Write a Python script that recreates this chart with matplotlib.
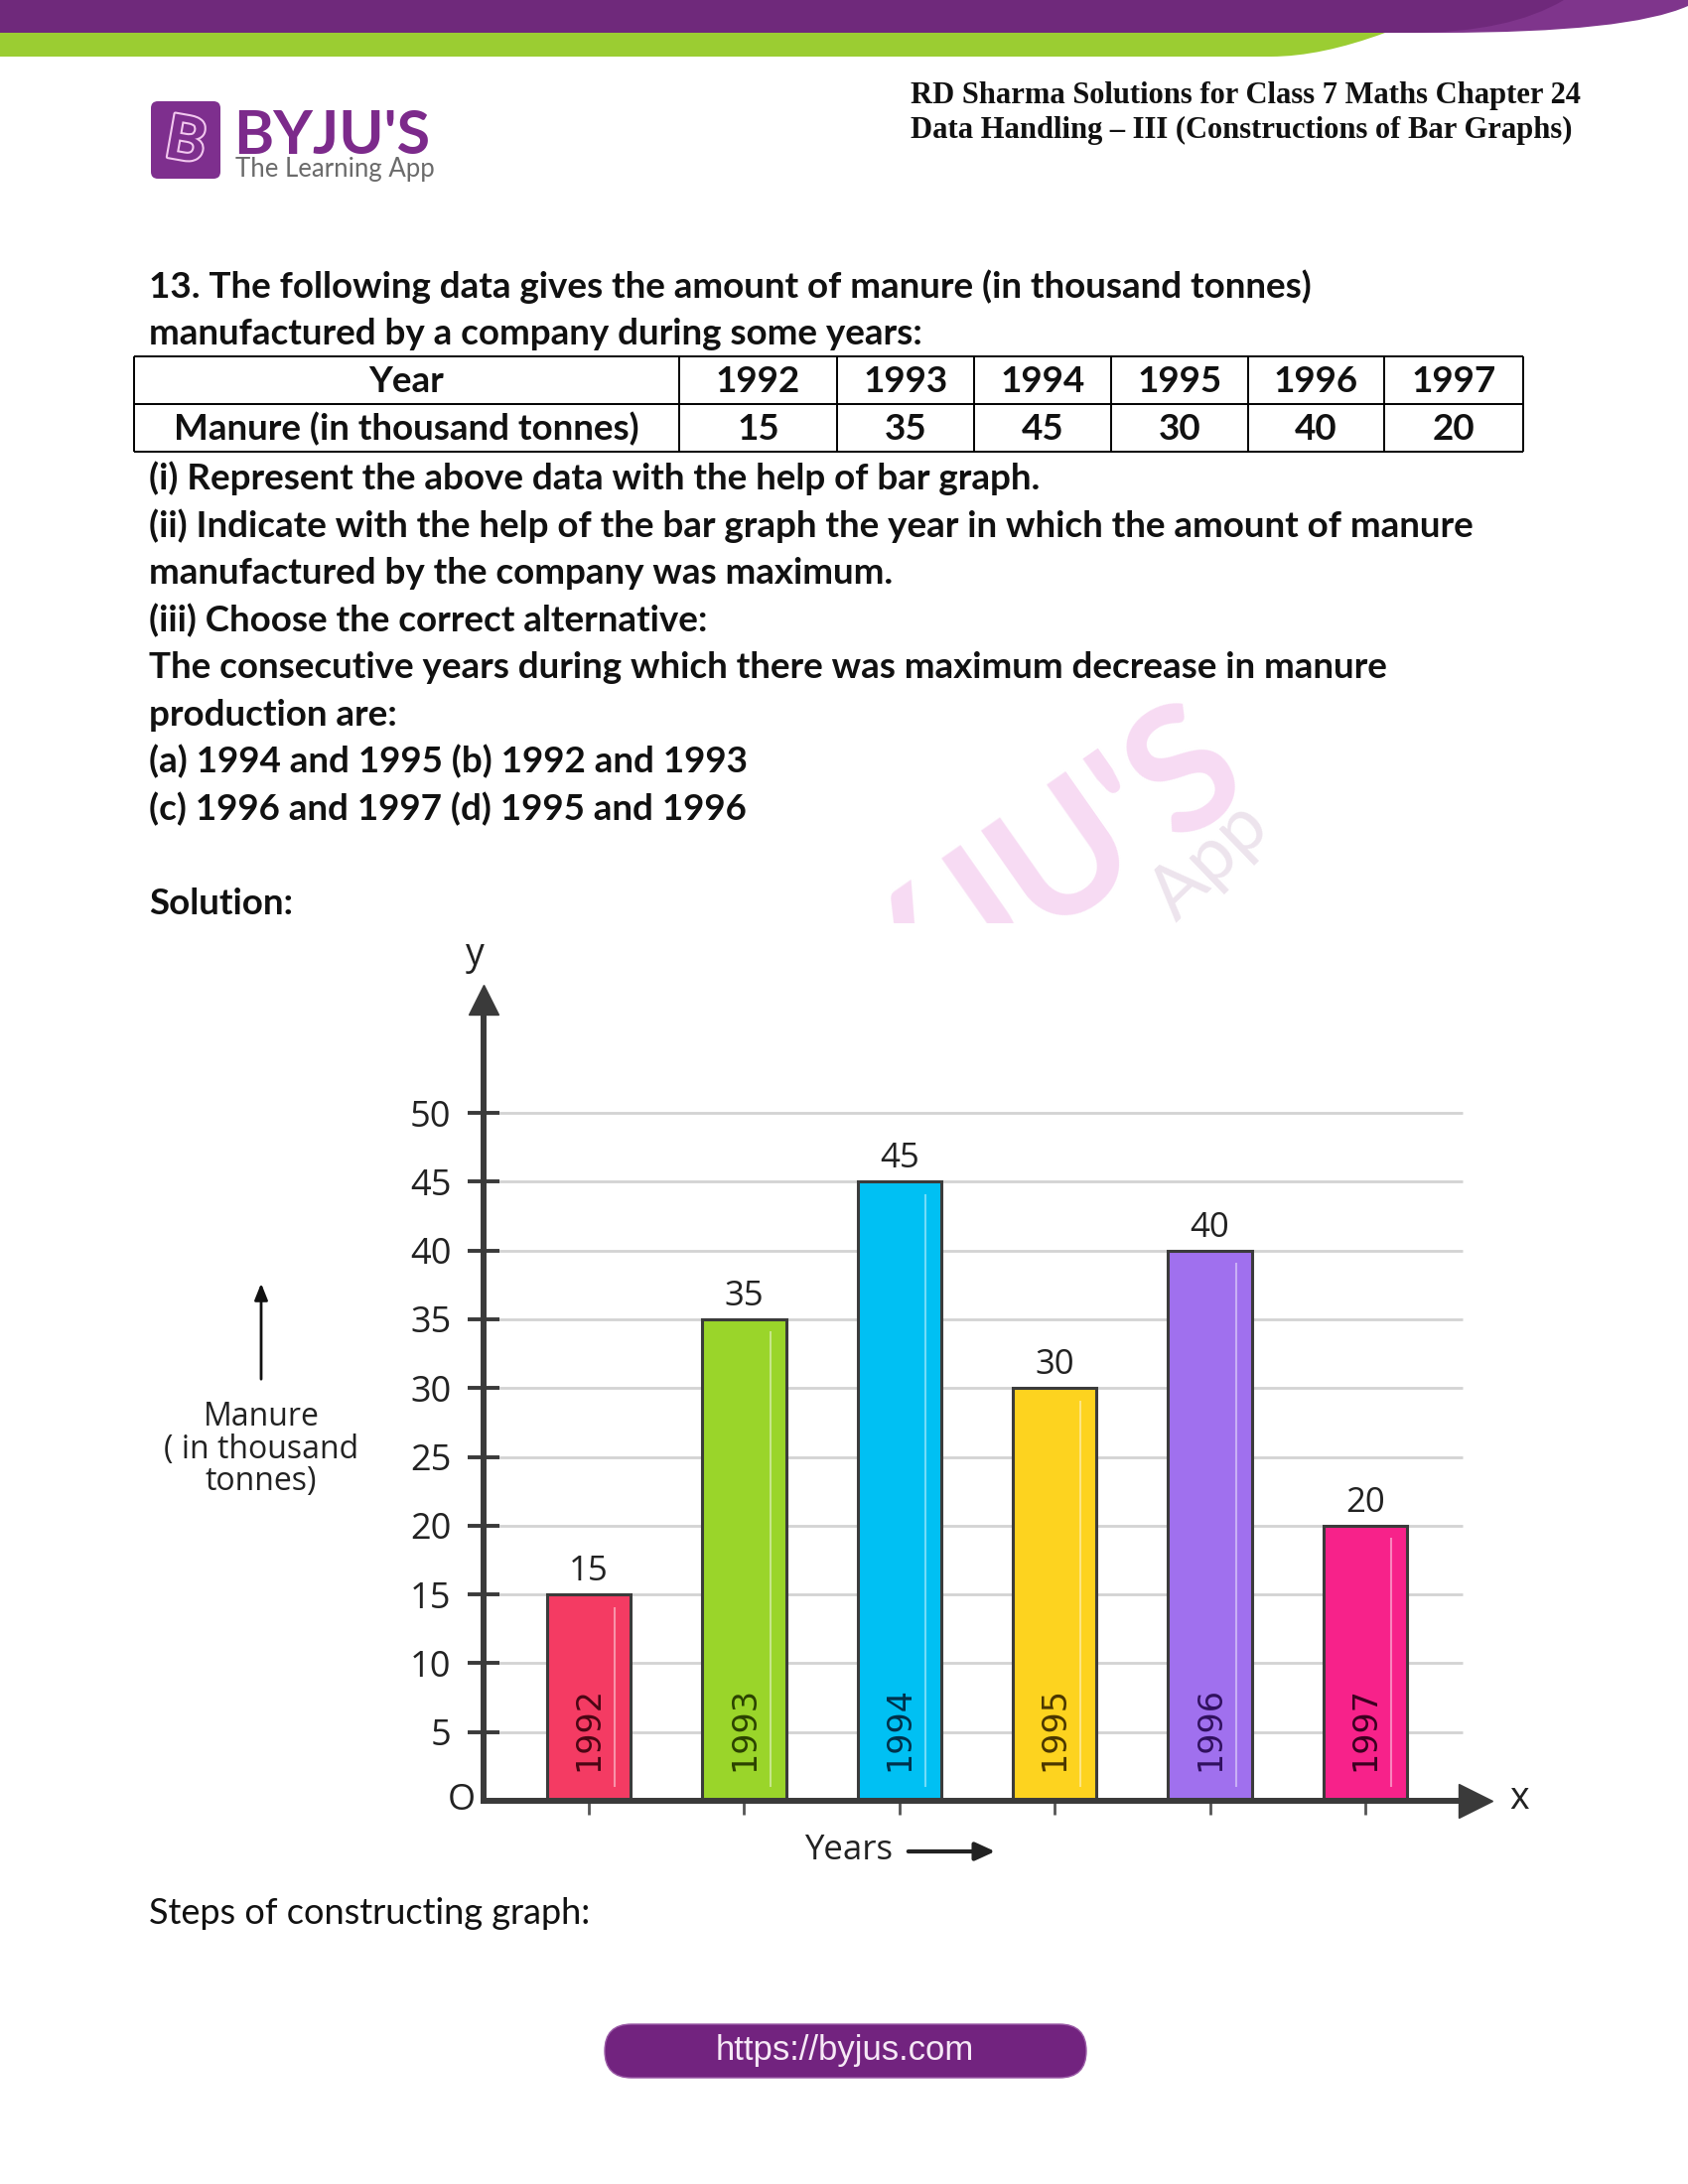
import numpy as np
import matplotlib
matplotlib.use("Agg")
import matplotlib.pyplot as plt
from matplotlib.patches import Rectangle, FancyBboxPatch, PathPatch
from matplotlib.path import Path
import matplotlib.patheffects as pe

# ---- data -------------------------------------------------------------
years = ["1992", "1993", "1994", "1995", "1996", "1997"]
manure = [15, 35, 45, 30, 40, 20]
bar_colors = ["#f43b63", "#9ad52a", "#00c0f3", "#fdd31f", "#a070ee", "#f7228a"]
year_text_colors = ["#4a0614", "#2b4200", "#00304a", "#4a3600", "#30105e", "#3a0020"]
y_ticks = [5, 10, 15, 20, 25, 30, 35, 40, 45, 50]

header_lines = ["RD Sharma Solutions for Class 7 Maths Chapter 24",
                "Data Handling \u2013 III (Constructions of Bar Graphs)"]
question_top = ["13. The following data gives the amount of manure (in thousand tonnes)",
                "manufactured by a company during some years:"]
question_rest = ["(i) Represent the above data with the help of bar graph.",
                 "(ii) Indicate with the help of the bar graph the year in which the amount of manure",
                 "manufactured by the company was maximum.",
                 "(iii) Choose the correct alternative:",
                 "The consecutive years during which there was maximum decrease in manure",
                 "production are:",
                 "(a) 1994 and 1995 (b) 1992 and 1993",
                 "(c) 1996 and 1997 (d) 1995 and 1996"]

BODY = "Lato"
CHART = "Open Sans"
BODY_FS = 26.5
plt.rcParams["font.family"] = [CHART, "DejaVu Sans"]

W, H = 1700, 2200
fig = plt.figure(figsize=(17, 22), dpi=100)
pg = fig.add_axes([0, 0, 1, 1])
pg.set_xlim(0, W)
pg.set_ylim(H, 0)
pg.axis("off")


def fig_box(x0, y0, x1, y1):
    """page pixels (y down) -> figure fraction rect"""
    return [x0 / W, 1 - y1 / H, (x1 - x0) / W, (y1 - y0) / H]


# ---- top banner -------------------------------------------------------
C3 = Path.CURVE3
green = Path([(0, 28), (1395, 28), (1395, 33), (1330, 57), (1280, 57), (0, 57), (0, 28)],
             [Path.MOVETO, Path.LINETO, Path.LINETO, C3, C3, Path.LINETO, Path.CLOSEPOLY])
pg.add_patch(PathPatch(green, fc="#9bcd32", ec="none", zorder=2))
light = Path([(1380, 0), (1700, 0), (1700, 6), (1640, 33), (1450, 33), (1380, 33), (1380, 0)],
             [Path.MOVETO, Path.LINETO, Path.LINETO, C3, C3, Path.LINETO, Path.CLOSEPOLY])
pg.add_patch(PathPatch(light, fc="#7f358c", ec="none", zorder=2))
dark = Path([(0, 0), (1575, 0), (1520, 33), (1420, 33), (0, 33), (0, 0)],
            [Path.MOVETO, Path.LINETO, C3, C3, Path.LINETO, Path.CLOSEPOLY])
pg.add_patch(PathPatch(dark, fc="#6f297b", ec="none", zorder=3))

# ---- logo -------------------------------------------------------------
pg.add_patch(FancyBboxPatch((152, 102), 70, 78, boxstyle="round,pad=0,rounding_size=7",
                            fc="#7e2f8e", ec="none"))
pg.text(187, 143, "B", ha="center", va="center", fontsize=44, fontweight="bold",
        family=BODY, color="#7e2f8e", rotation=-10,
        path_effects=[pe.withStroke(linewidth=3, foreground="#f2c8ef")])
pg.text(235, 155, "BYJU'S", ha="left", va="baseline", fontsize=44, fontweight="bold",
        family=BODY, color="#7c2a8b")
pg.text(237, 178, "The Learning App", ha="left", va="baseline", fontsize=18.5,
        family=BODY, color="#6b6b6b")

# ---- header -----------------------------------------------------------
for i, line in enumerate(header_lines):
    pg.text(917, 104 + 35 * i, line, ha="left", va="baseline", fontsize=22,
            fontweight="bold", family="Liberation Serif", color="#111")

# ---- watermark (covered by the chart picture below y=930) -------------
pg.text(1262, 790, "BYJU'S", rotation=35, rotation_mode="anchor", ha="right",
        va="baseline", fontsize=125, fontweight="bold", family=BODY,
        color="#f7dbf3", zorder=0.5)
pg.text(1185, 930, "App", rotation=44, rotation_mode="anchor", ha="left",
        va="baseline", fontsize=54, family=BODY, color="#ede4ed", zorder=0.5)
pg.add_patch(Rectangle((560, 930), 900, 450, fc="white", ec="none", zorder=1))

# ---- question text ----------------------------------------------------
for line, yc in zip(question_top, [288, 335]):
    pg.text(150, yc + 12, line, ha="left", va="baseline", fontsize=BODY_FS,
            fontweight="bold", family=BODY, color="#111")

col_edges = [135, 684, 843, 981, 1119, 1257, 1394, 1534]
row_edges = [359, 407, 455]
pg.hlines(row_edges, col_edges[0], col_edges[-1], colors="black", lw=1.4, zorder=3)
pg.vlines(col_edges, row_edges[0], row_edges[-1], colors="black", lw=1.4, zorder=3)
rows = [["Year"] + years, ["Manure (in thousand tonnes)"] + [str(v) for v in manure]]
for r, cells in enumerate(rows):
    yc = (row_edges[r] + row_edges[r + 1]) / 2
    for c, txt in enumerate(cells):
        xc = (col_edges[c] + col_edges[c + 1]) / 2
        pg.text(xc, yc + 12, txt, ha="center", va="baseline", fontsize=BODY_FS,
                fontweight="bold", family=BODY, color="#111")

for k, line in enumerate(question_rest):
    pg.text(150, 481 + 47.6 * k + 12, line, ha="left", va="baseline", fontsize=BODY_FS,
            fontweight="bold", family=BODY, color="#111")

pg.text(150, 909 + 12, "Solution:", ha="left", va="baseline", fontsize=BODY_FS,
        fontweight="bold", family=BODY, color="#111")
pg.text(150, 1926 + 12, "Steps of constructing graph:", ha="left", va="baseline",
        fontsize=26, family=BODY, color="#111")

# ---- footer -----------------------------------------------------------
pg.add_patch(FancyBboxPatch((609, 2039), 485, 54, boxstyle="round,pad=0,rounding_size=27",
                            fc="#72237f", ec="#9a5aa6", lw=1))
pg.text(851, 2066, "https://byjus.com", ha="center", va="center", fontsize=25,
        family="Liberation Sans", color="#f6e8f6")

# ---- chart ------------------------------------------------------------
AX_L, AX_R, AX_T, AX_B = 487, 1486, 1007, 1814
PX_PER_UNIT = 69.3 / 5
SLOT = 156.4
FIRST = 106
ax = fig.add_axes(fig_box(AX_L, AX_T, AX_R, AX_B))
ax.set_facecolor("none")
x = np.arange(len(years))
ax.set_xlim(-FIRST / SLOT, (AX_R - AX_L - FIRST) / SLOT)
ax.set_ylim(0, (AX_B - AX_T) / PX_PER_UNIT)

ax.hlines(y_ticks, ax.get_xlim()[0], (1473 - AX_L - FIRST) / SLOT,
          colors="#d3d3d3", lw=2, zorder=1)

bw = 0.54
ax.bar(x, manure, width=bw, color=bar_colors, edgecolor="#3b3b3b", linewidth=2.2, zorder=3)
ax.vlines(x + bw * 0.31, 1.0, np.array(manure) - 0.9, colors="white", alpha=0.45,
          lw=1.5, zorder=4)

for xi, yr, v, tc in zip(x, years, manure, year_text_colors):
    ax.text(xi, 2.2, yr, rotation=90, ha="center", va="bottom", fontsize=24,
            family="DejaVu Sans", color=tc, zorder=5)
    ax.annotate(str(v), (xi, v), xytext=(0, 10), textcoords="offset points",
                ha="center", va="baseline", fontsize=25, color="#222")

for s in ("top", "right"):
    ax.spines[s].set_visible(False)
for s in ("left", "bottom"):
    ax.spines[s].set_color("#3a3a3a")
    ax.spines[s].set_linewidth(4.3)
    ax.spines[s].set_zorder(6)
ax.plot(0, 1, "^", ms=22, color="#3a3a3a", transform=ax.transAxes, clip_on=False, zorder=7)
ax.plot(1, 0, ">", ms=24, color="#3a3a3a", transform=ax.transAxes, clip_on=False, zorder=7)

ax.set_yticks(y_ticks)
ax.tick_params(axis="y", direction="inout", length=23, width=2.8, color="#3a3a3a",
               pad=12, labelsize=26, labelcolor="#222")
ax.set_xticks(x)
ax.set_xticklabels([])
ax.tick_params(axis="x", direction="out", length=10, width=2, color="#555")

pg.text(465, 1814, "O", ha="center", va="center", fontsize=26, color="#222")
pg.text(478, 962, "y", ha="center", va="center", fontsize=27, color="#222")
pg.text(1530, 1812, "x", ha="center", va="center", fontsize=27, color="#222")
pg.text(855, 1864, "Years", ha="center", va="center", fontsize=25, color="#222")
pg.annotate("", xy=(1005, 1865), xytext=(912, 1865),
            arrowprops=dict(arrowstyle="-|>,head_length=1.2,head_width=0.55",
                            color="#222", lw=3))
pg.text(263, 1460, "Manure\n( in thousand\ntonnes)", ha="center", va="center",
        fontsize=23, linespacing=1.0, color="#222")
pg.annotate("", xy=(263, 1290), xytext=(263, 1392),
            arrowprops=dict(arrowstyle="-|>,head_length=1.0,head_width=0.4",
                            color="#111", lw=2))

fig.savefig("out.png", dpi=100, facecolor="white")
